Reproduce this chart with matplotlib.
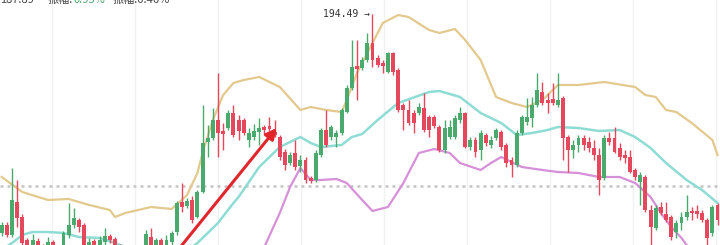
import matplotlib
matplotlib.use("Agg")
import matplotlib.pyplot as plt
import numpy as np

plt.rcParams['font.family'] = ['Noto Sans CJK SC', 'DejaVu Sans']

# candle data (one per session, left to right)
opens = [172.6, 173.4, 172.4, 175.7, 174.2, 171.9, 171.4, 171.8, 171.3, 170.9,
         171.7, 171.1, 170.9, 172.4, 173.4, 173.9, 173.4, 171.2, 171.8, 171.3,
         171.7, 172.3, 172.0, 171.3, 170.5, 169.9, 170.6, 170.1, 171.4, 172.2,
         171.4, 171.9, 171.3, 171.7, 172.7, 175.7, 175.3, 175.9, 174.2, 176.7,
         181.7, 182.1, 183.9, 182.8, 183.1, 184.6, 183.9, 183.9, 181.9, 182.2,
         182.7, 183.2, 183.3, 182.7, 182.2, 180.7, 179.6, 180.6, 179.3, 179.9,
         178.1, 177.9, 180.4, 182.9, 182.2, 182.2, 182.6, 184.7, 187.1, 189.3,
         189.1, 189.9, 191.6, 190.1, 189.6, 188.7, 190.6, 188.9, 185.4, 184.9,
         184.6, 184.6, 185.1, 184.2, 184.2, 183.2, 180.9, 182.2, 182.2, 183.9,
         184.6, 181.2, 181.9, 180.9, 182.4, 181.4, 182.1, 182.7, 181.4, 179.9,
         179.4, 182.6, 183.7, 184.1, 185.4, 186.7, 185.9, 186.0, 185.4, 186.1,
         182.2, 180.9, 181.4, 182.1, 181.7, 181.1, 180.4, 178.1, 182.1, 182.1,
         181.1, 180.4, 180.2, 178.9, 177.7, 178.2, 174.9, 173.1, 175.2, 174.5,
         174.2, 172.7, 173.6, 174.2, 174.8, 174.8, 174.6, 173.9, 172.6, 175.4]
highs = [173.7, 173.7, 179.1, 177.9, 174.5, 172.1, 172.5, 172.1, 171.5, 172.2,
         171.9, 171.3, 172.8, 175.6, 175.1, 174.1, 173.6, 172.1, 172.0, 172.3,
         173.1, 172.5, 172.2, 171.5, 170.9, 170.9, 171.0, 171.2, 172.9, 173.1,
         172.1, 172.1, 172.4, 172.8, 175.8, 177.6, 176.1, 176.3, 176.9, 185.4,
         183.4, 185.1, 188.6, 183.6, 184.9, 185.4, 184.4, 184.1, 183.1, 183.5,
         184.1, 183.4, 184.2, 183.9, 182.4, 181.0, 180.7, 181.9, 180.4, 180.2,
         178.3, 180.9, 183.1, 184.9, 183.4, 182.9, 185.1, 187.4, 191.9, 191.9,
         190.2, 192.6, 194.49, 190.4, 189.9, 190.7, 190.7, 189.1, 185.6, 185.9,
         184.9, 185.6, 186.6, 184.4, 184.4, 183.4, 183.9, 183.9, 184.4, 185.2,
         184.7, 182.2, 182.2, 182.9, 182.6, 182.3, 183.1, 182.9, 181.6, 180.2,
         182.9, 184.4, 186.1, 186.2, 188.6, 187.7, 186.6, 187.6, 188.6, 186.3,
         182.4, 181.9, 182.4, 182.4, 182.2, 181.9, 181.1, 182.4, 182.7, 183.2,
         181.6, 180.9, 180.9, 179.1, 178.7, 178.4, 175.4, 175.4, 175.7, 175.7,
         174.4, 173.9, 174.7, 176.4, 175.2, 175.4, 174.9, 174.1, 175.4, 175.6]
lows = [172.3, 172.2, 172.2, 173.2, 171.4, 170.4, 171.1, 170.9, 170.3, 170.7,
        170.7, 170.1, 170.7, 172.1, 173.1, 172.7, 170.9, 170.9, 170.9, 170.9,
        171.4, 171.6, 171.1, 170.1, 169.7, 169.7, 169.7, 169.9, 171.2, 171.1,
        171.1, 171.2, 171.1, 171.4, 172.4, 174.7, 175.1, 173.6, 174.1, 176.6,
        180.2, 181.9, 180.2, 180.9, 182.9, 182.2, 181.9, 182.4, 181.2, 181.9,
        181.4, 182.4, 182.8, 182.2, 179.9, 178.9, 179.4, 178.9, 178.7, 177.6,
        177.6, 177.7, 180.2, 181.2, 181.9, 181.2, 182.4, 184.6, 186.9, 185.9,
        188.9, 189.7, 189.2, 189.2, 188.6, 188.6, 188.4, 184.7, 182.9, 183.4,
        182.6, 184.4, 182.7, 182.2, 183.1, 180.7, 180.6, 182.0, 182.0, 183.6,
        181.1, 180.9, 180.2, 179.9, 181.3, 181.1, 181.9, 180.9, 179.2, 178.2,
        179.2, 182.4, 183.4, 183.2, 185.2, 185.4, 184.6, 185.4, 185.2, 179.9,
        178.7, 180.1, 180.7, 180.9, 180.7, 179.9, 176.4, 177.9, 181.4, 180.6,
        179.9, 179.6, 178.6, 177.9, 175.4, 174.7, 171.4, 172.9, 174.4, 173.7,
        171.9, 172.1, 172.9, 173.9, 173.9, 174.1, 173.7, 171.4, 172.3, 173.4]
closes = [173.4, 172.4, 175.9, 174.1, 171.6, 170.9, 171.9, 171.3, 170.7, 171.7,
          171.1, 170.5, 172.6, 173.4, 174.1, 173.2, 171.4, 171.7, 171.4, 171.9,
          172.3, 171.9, 171.4, 170.5, 170.0, 170.5, 170.1, 170.9, 172.5, 171.4,
          171.9, 171.4, 171.9, 172.6, 175.6, 175.2, 175.8, 173.9, 176.7, 181.6,
          182.1, 183.9, 182.6, 182.5, 184.6, 182.4, 182.8, 182.6, 182.6, 182.8,
          183.1, 182.9, 183.0, 182.4, 180.2, 179.4, 180.4, 179.2, 179.9, 177.9,
          177.8, 180.6, 182.9, 181.4, 183.2, 182.6, 184.9, 187.1, 189.2, 189.0,
          189.9, 191.6, 189.9, 189.4, 189.3, 190.6, 188.7, 184.9, 184.9, 183.6,
          183.6, 185.2, 182.9, 182.9, 183.3, 180.9, 183.1, 183.2, 184.1, 184.6,
          181.2, 181.9, 180.7, 182.6, 181.6, 181.9, 182.9, 181.2, 179.6, 179.4,
          182.6, 184.2, 184.2, 185.4, 186.9, 185.6, 185.6, 185.6, 185.9, 182.1,
          180.9, 181.4, 182.1, 181.4, 181.1, 180.4, 177.9, 182.1, 181.7, 180.7,
          180.2, 180.1, 178.7, 178.2, 178.4, 174.9, 173.2, 175.1, 174.6, 173.9,
          172.2, 173.6, 174.2, 174.7, 174.6, 174.5, 173.9, 172.1, 175.2, 173.9]

# Bollinger bands, read at selected candles
upper_idx = [0, 4, 9, 13, 17, 21, 22, 24, 29, 33, 36, 38, 39, 41, 43, 45, 47, 50, 54, 58,
             60, 63, 66, 67, 69, 72, 74, 77, 79, 83, 85, 88, 90, 93, 96, 99, 102, 105, 108, 112,
             117, 123, 125, 127, 129, 131, 134, 138, 139]
upper_val = [178.2, 176.7, 175.9, 176.0, 175.4, 174.9, 174.2, 174.6, 175.2, 175.0,
             176.4, 178.6, 180.6, 183.9, 186.4, 187.6, 187.9, 188.2, 187.2, 184.9,
             185.2, 184.9, 184.7, 185.9, 188.6, 191.6, 193.6, 194.4, 194.2, 192.9,
             192.6, 193.0, 191.9, 189.9, 186.2, 185.6, 185.2, 185.9, 187.4, 187.4,
             187.7, 187.2, 186.4, 186.2, 184.9, 184.7, 183.6, 181.9, 180.4]
mid_idx = [0, 2, 4, 6, 9, 12, 15, 19, 22, 26, 32, 36, 38, 42, 45, 46, 50, 54, 58, 60,
           62, 66, 68, 70, 73, 77, 83, 85, 89, 93, 97, 100, 103, 106, 108, 112, 116, 120, 123, 126,
           129, 133, 136, 139]
mid_val = [170.9, 171.6, 172.4, 172.7, 172.7, 172.6, 172.2, 172.1, 171.6, 170.8,
           170.5, 170.8, 171.6, 173.6, 175.6, 176.2, 179.2, 181.2, 182.2, 181.6,
           181.2, 181.4, 182.2, 182.5, 183.9, 185.6, 186.7, 186.8, 186.2, 184.6,
           183.6, 182.4, 182.6, 182.9, 183.2, 183.1, 182.8, 182.9, 182.2, 181.1,
           179.6, 177.9, 176.9, 175.6]
lower_idx = [48, 51, 54, 56, 58, 60, 62, 65, 67, 70, 72, 75, 78, 81, 84, 87, 89, 93, 95, 97,
             99, 101, 105, 108, 112, 116, 120, 123, 126, 128, 130, 132, 135]
lower_val = [168.5, 171.2, 174.6, 177.2, 179.1, 177.9, 177.9, 178.0, 177.6, 175.9,
             174.8, 175.2, 177.6, 180.6, 181.0, 180.6, 179.6, 178.9, 179.6, 180.2,
             179.7, 179.2, 178.9, 178.7, 178.6, 178.2, 178.2, 177.6, 176.2, 174.6,
             173.2, 172.1, 170.0]

ref_price = 177.3
peak_label = "194.49 \u2192"

GREEN = '#4aa96c'
RED = '#e5485c'

fig = plt.figure(figsize=(7.2, 2.45), dpi=100)
ax = fig.add_axes([0, 0, 1, 1])
ax.set_xlim(-0.33, 139.48)
ax.set_ylim(171.4, 195.9)
ax.axis('off')

# faint vertical grid
for gx in np.arange(9.8, 140, 16.12):
    ax.axvline(gx, color='#f1f1f1', lw=1, zorder=0)

ax.axhline(ref_price, color='#c4c4c4', lw=1.8, ls=(0, (1.2, 1.6)), zorder=1)

ax.plot(upper_idx, upper_val, color='#e3c98e', lw=1.6, zorder=2,
        solid_joinstyle='round')
ax.plot(mid_idx, mid_val, color='#8fdcd4', lw=1.8, zorder=2,
        solid_joinstyle='round')
ax.plot(lower_idx, lower_val, color='#d690d8', lw=1.6, zorder=2,
        solid_joinstyle='round')

x = np.arange(len(opens))
o = np.array(opens)
c = np.array(closes)
up = c >= o
cols = np.where(up, GREEN, RED)
ax.vlines(x, lows, highs, colors=cols, lw=1.0, zorder=3)
bottom = np.minimum(o, c)
height = np.maximum(np.abs(c - o), 0.12)
ax.bar(x, height, bottom=bottom, width=0.76, color=cols, zorder=4, linewidth=0)

# trend arrow
ax.annotate('', xy=(53.4, 183.1), xytext=(32.5, 169.8),
            arrowprops=dict(arrowstyle='-|>', color='#e0262b', lw=2.2,
                            mutation_scale=16, shrinkA=0, shrinkB=0),
            zorder=6, annotation_clip=False)

# peak label
ax.text(71.6, 194.49, peak_label, ha='right', va='center', fontsize=7,
        family='DejaVu Sans Mono', color='#333333', zorder=6)

# header text, cut off at the top edge as in the source screenshot
fig.text(0.0, 0.988, "187.89", fontsize=8, color='#444444', va='baseline')
fig.text(48 / 720, 0.988, "振幅:", fontsize=8, color='#444444', va='baseline')
fig.text(73 / 720, 0.988, "0.95%", fontsize=8, color=GREEN, va='baseline')
fig.text(113 / 720, 0.988, "振幅:0.46%", fontsize=8, color='#444444', va='baseline')

fig.savefig('out.png', dpi=100)
